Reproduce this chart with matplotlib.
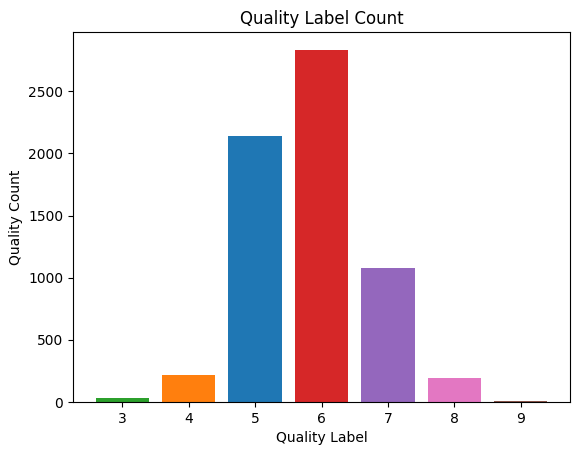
import matplotlib
matplotlib.use("Agg")
import matplotlib.pyplot as plt

labels = ["3", "4", "5", "6", "7", "8", "9"]
counts = [30, 216, 2138, 2836, 1079, 193, 5]
colors = ["tab:green", "tab:orange", "tab:blue", "tab:red", "tab:purple", "tab:pink", "tab:brown"]

fig = plt.figure(figsize=(5.8, 4.55), dpi=100)
ax = fig.add_axes([73/580, 53/455, 497/580, 370/455])
ax.bar(labels, counts, color=colors)
ax.set_title("Quality Label Count")
ax.set_xlabel("Quality Label")
ax.set_ylabel("Quality Count")
fig.savefig("out.png")
